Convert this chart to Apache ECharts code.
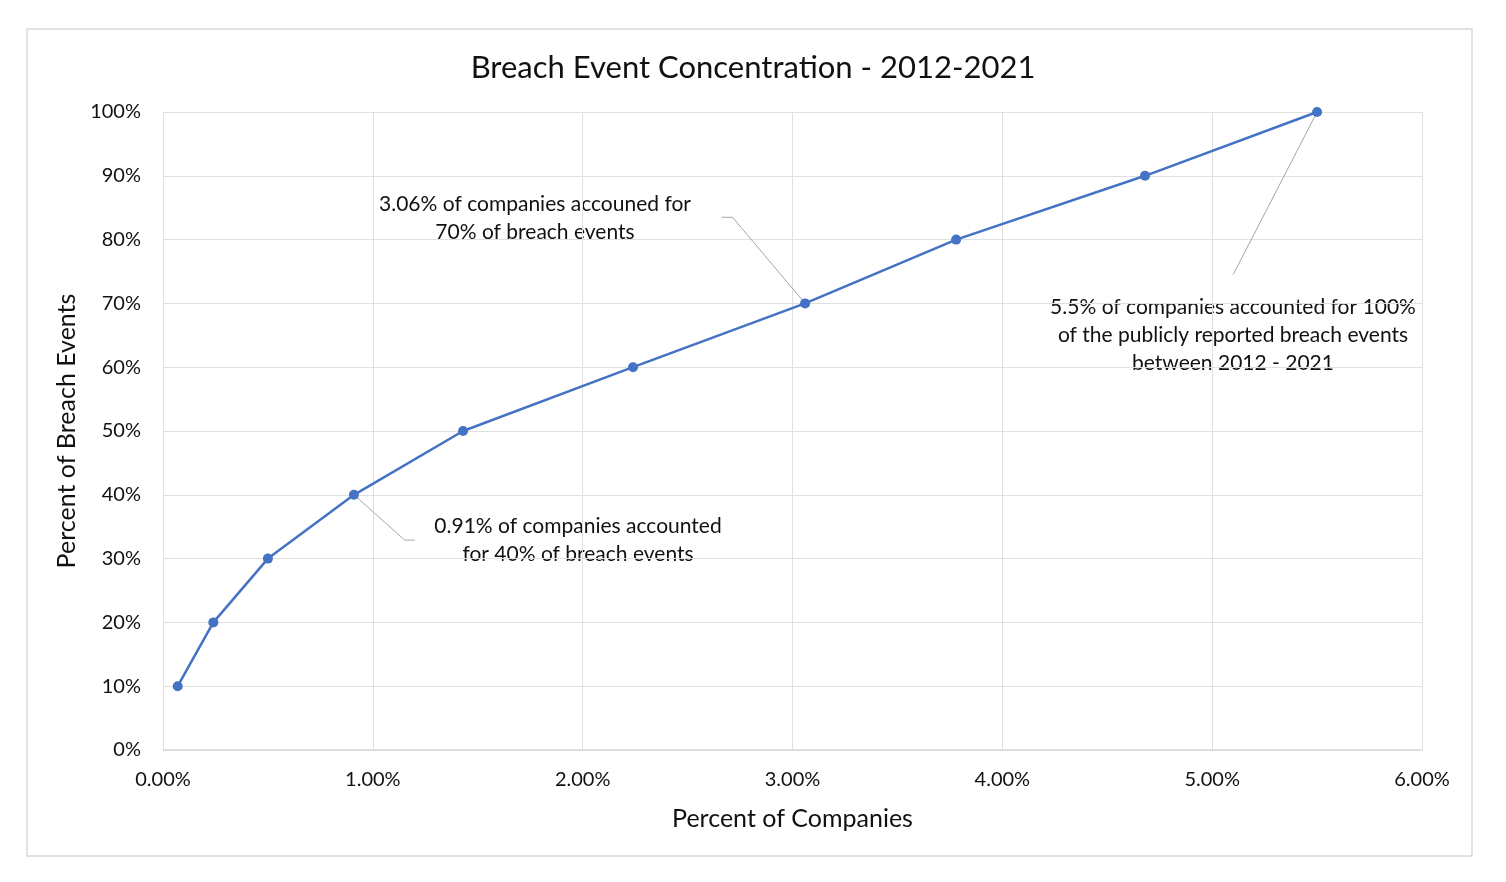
<!DOCTYPE html>
<html><head><meta charset="utf-8">
<script src="https://cdn.jsdelivr.net/npm/echarts@6/dist/echarts.min.js"></script>
<style>html,body{margin:0;padding:0;background:#fff}#c{width:1506px;height:882px}</style>
</head><body><div id="c"></div>
<script>
const pctCompanies = [0.07, 0.24, 0.50, 0.91, 1.43, 2.24, 3.06, 3.78, 4.68, 5.50];
const pctBreach = [10, 20, 30, 40, 50, 60, 70, 80, 90, 100];
const leader1 = [[0.91, 40], [1.152, 32.9], [1.2, 32.9]];
const leader2 = [[3.06, 70], [2.714, 83.5], [2.662, 83.5]];
const leader3 = [[5.50, 100], [5.10, 74.5]];
const ann1 = "0.91% of companies accounted\nfor 40% of breach events";
const ann2 = "3.06% of companies accouned for\n70% of breach events";
const ann3 = "5.5% of companies accounted for 100%\nof the publicly reported breach events\nbetween 2012 - 2021";

const FONT = "Lato, 'Open Sans', sans-serif";
const chart = echarts.init(document.getElementById('c'));
const leaderStyle = {type:'line', symbol:'none', silent:true, lineStyle:{color:'#a6a6a6', width:1}, z:1};
const txtStyle = (t) => ({text:t, fill:'#111', font:'21px ' + FONT, textAlign:'center', lineHeight:28});
chart.setOption({
  animation:false,
  backgroundColor:'#fff',
  title:{text:'Breach Event Concentration - 2012-2021', left:'center', top:47,
    textStyle:{fontFamily:FONT, fontSize:31, fontWeight:'normal', color:'#111'}},
  grid:{left:163, right:84, top:112, bottom:132, containLabel:false},
  xAxis:{type:'value', min:0, max:6, interval:1,
    name:'Percent of Companies', nameLocation:'middle', nameGap:56,
    nameTextStyle:{fontFamily:FONT, fontSize:25, color:'#111'},
    axisLine:{show:true, lineStyle:{color:'#d9d9d9', width:1.5}},
    axisTick:{show:false},
    axisLabel:{formatter:v=>v.toFixed(2)+'%', fontFamily:FONT, fontSize:20, color:'#111', margin:20},
    splitLine:{show:true, lineStyle:{color:'#e0e0e0', width:1}}},
  yAxis:{type:'value', min:0, max:100, interval:10,
    name:'Percent of Breach Events', nameLocation:'middle', nameGap:84,
    nameTextStyle:{fontFamily:FONT, fontSize:25, color:'#111'},
    axisLine:{show:false}, axisTick:{show:false},
    axisLabel:{formatter:v=>v+'%', fontFamily:FONT, fontSize:20, color:'#111', margin:22},
    splitLine:{show:true, lineStyle:{color:'#e0e0e0', width:1}}},
  series:[
    Object.assign({data:leader1}, leaderStyle),
    Object.assign({data:leader2}, leaderStyle),
    Object.assign({data:leader3}, leaderStyle),
    {type:'line', data:pctCompanies.map((x,i)=>[x,pctBreach[i]]), symbol:'circle', symbolSize:10,
     itemStyle:{color:'#4472C4'}, lineStyle:{color:'#4472C4', width:2.5}, z:3}
  ],
  graphic:[
    {type:'rect', shape:{x:27, y:29, width:1445, height:827}, style:{fill:'none', stroke:'#d9d9d9', lineWidth:1.5}, z:-1},
    {type:'text', x:578, y:512, style:txtStyle(ann1)},
    {type:'text', x:535, y:190, style:txtStyle(ann2)},
    {type:'text', x:1233, y:293, style:txtStyle(ann3)}
  ]
});
</script></body></html>
